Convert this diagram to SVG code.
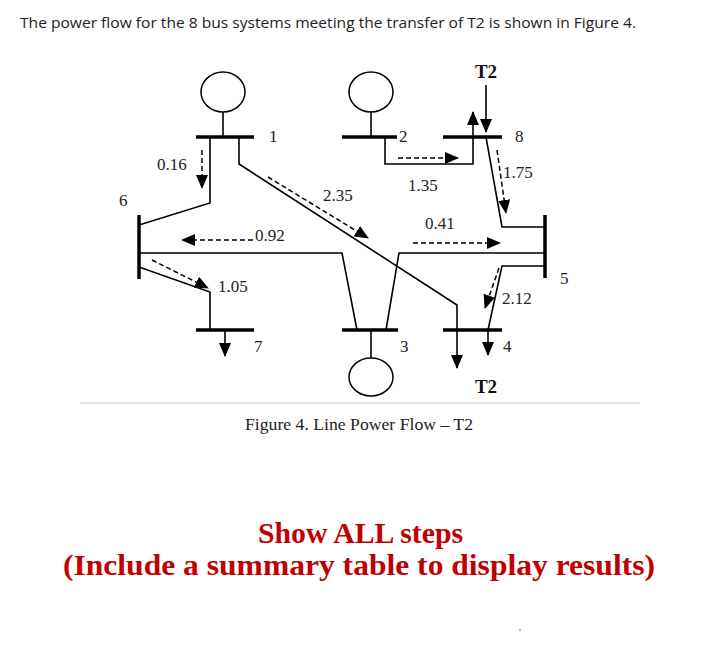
<svg xmlns="http://www.w3.org/2000/svg" width="707" height="669" viewBox="0 0 707 669">
<style>
.l{stroke:#000;stroke-width:1.6;fill:none}
.b{stroke:#000;stroke-width:3.5;fill:none}
.d{stroke:#000;stroke-width:1.5;fill:none;stroke-dasharray:5,3}
.g{stroke:#000;stroke-width:1.5;fill:#fff}
.t{font-family:"Liberation Serif",serif;font-size:17px;fill:#222}
.tb{font-family:"Liberation Serif",serif;font-size:19px;font-weight:bold;fill:#111}
</style>
<defs>
<marker id="A" markerWidth="14" markerHeight="12" refX="13" refY="6" orient="auto" markerUnits="userSpaceOnUse"><path d="M0,0L14,6L0,12Z"/></marker></defs>
<rect width="707" height="669" fill="#fff"/>
<text x="20" y="28" font-family="Open Sans, sans-serif" font-size="15" fill="#222" textLength="616" lengthAdjust="spacingAndGlyphs">The power flow for the 8 bus systems meeting the transfer of T2 is shown in Figure 4.</text>
<g id="connectors">
<path class="l" d="M210,137V203L139,225"/>
<path class="l" d="M239,137V164L457,305V330"/>
<path class="l" d="M139,253H342L357,330"/>
<path class="l" d="M386,330L399,253H545"/>
<path class="l" d="M139,267L210,292V330"/>
<path class="l" d="M545,266H502L488,330"/>
<path class="l" d="M385,137V164H473V112" marker-end="url(#A)"/>
<path class="l" d="M486,137L502,227H545"/>
<path class="l" d="M486,85V132" marker-end="url(#A)"/>
<path class="l" d="M225,330V356" marker-end="url(#A)"/>
<path class="l" d="M457,330V368" marker-end="url(#A)"/>
<path class="l" d="M488,330V355" marker-end="url(#A)"/>
<path class="d" d="M202,150V188" marker-end="url(#A)"/>
<path class="d" d="M268,177L368,238" marker-end="url(#A)"/>
<path class="d" d="M253,240H182" marker-end="url(#A)"/>
<path class="d" d="M413,243H500" marker-end="url(#A)"/>
<path class="d" d="M152,260L208,288" marker-end="url(#A)"/>
<path class="d" d="M499,268L485,308" marker-end="url(#A)"/>
<path class="d" d="M398,158H458" marker-end="url(#A)"/>
<path class="d" d="M497,150L506,213" marker-end="url(#A)"/>
</g>
<g id="gen1"><line class="l" x1="223" y1="112" x2="223" y2="137"/><ellipse class="g" cx="223" cy="92" rx="22" ry="20"/></g>
<g id="gen2"><line class="l" x1="371" y1="112" x2="371" y2="137"/><ellipse class="g" cx="371" cy="92" rx="22" ry="20"/></g>
<g id="gen3"><line class="l" x1="371" y1="330" x2="371" y2="358"/><ellipse class="g" cx="371" cy="377" rx="22" ry="19"/></g>
<g id="bus1"><line class="b" x1="196" y1="137" x2="254" y2="137"/><text class="t" x="269" y="142">1</text></g>
<g id="bus2"><line class="b" x1="342" y1="137" x2="397" y2="137"/><text class="t" x="399" y="142">2</text></g>
<g id="bus8"><line class="b" x1="443" y1="137" x2="502" y2="137"/><text class="t" x="515" y="142">8</text></g>
<g id="bus6"><line class="b" x1="139" y1="215" x2="139" y2="279"/><text class="t" x="119" y="206">6</text></g>
<g id="bus5"><line class="b" x1="545" y1="215" x2="545" y2="278"/><text class="t" x="560" y="284">5</text></g>
<g id="bus7"><line class="b" x1="196" y1="330" x2="254" y2="330"/><text class="t" x="254" y="352">7</text></g>
<g id="bus3"><line class="b" x1="342" y1="330" x2="398" y2="330"/><text class="t" x="400" y="352">3</text></g>
<g id="bus4"><line class="b" x1="443" y1="330" x2="502" y2="330"/><text class="t" x="503" y="352">4</text></g>
<g id="labels">
<text class="t" x="157" y="170">0.16</text>
<text class="t" x="323" y="201">2.35</text>
<text class="t" x="255" y="241">0.92</text>
<text class="t" x="408" y="191">1.35</text>
<text class="t" x="503" y="178">1.75</text>
<text class="t" x="425" y="229">0.41</text>
<text class="t" x="218" y="292">1.05</text>
<text class="t" x="502" y="304">2.12</text>
<text class="tb" x="486" y="78" text-anchor="middle">T2</text>
<text class="tb" x="486" y="393" text-anchor="middle">T2</text>
</g>
<line x1="80" y1="403" x2="640" y2="403" stroke="#ccc" stroke-width="1"/>
<text x="245" y="430" font-family="Liberation Serif, serif" font-size="16" fill="#222" textLength="228" lengthAdjust="spacingAndGlyphs">Figure 4. Line Power Flow – T2</text>
<text x="258" y="543" font-family="Liberation Serif, serif" font-size="29" font-weight="bold" fill="#c00000" textLength="205" lengthAdjust="spacingAndGlyphs">Show ALL steps</text>
<text x="63" y="575" font-family="Liberation Serif, serif" font-size="29" font-weight="bold" fill="#c00000" textLength="592" lengthAdjust="spacingAndGlyphs">(Include a summary table to display results)</text>
<circle cx="520" cy="630" r="0.8" fill="#666"/>
</svg>
